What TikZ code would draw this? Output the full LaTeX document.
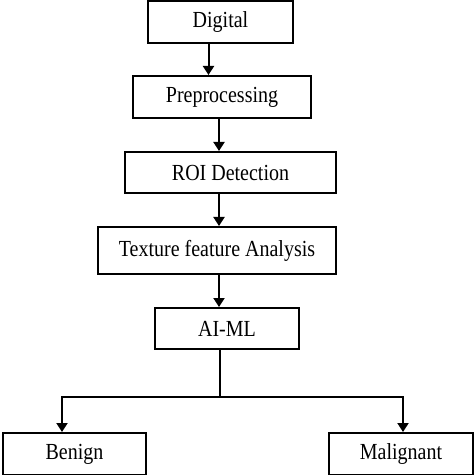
\documentclass[tikz,border=0pt]{standalone}
\usepackage{fontspec}
\setmainfont{Liberation Serif}
\usetikzlibrary{arrows.meta}

\newcommand{\stagetext}[1]{\scalebox{1}[1.15]{#1}}

\tikzset{
  stage/.style={draw, line width=1pt, minimum height=#1, inner sep=0pt, font=\fontsize{10}{12}\selectfont},
  stage/.default=21pt,
  arr/.style={line width=1pt, -{Triangle[length=4.5pt,width=5.5pt]}}
}

\begin{document}
\begin{tikzpicture}[x=0.5pt, y=-0.5pt]
  \useasboundingbox (0,0) rectangle (474,475);
  \node[stage, minimum width=72.5pt] (dig) at (220.5,22) {\stagetext{Digital}};
  \node[stage, minimum width=89pt] (pre) at (222,97) {\stagetext{Preprocessing}};
  \node[stage=20.5pt, minimum width=105.5pt] (roi) at (230.5,172.5) {\stagetext{ROI Detection}};
  \node[stage=23.5pt, minimum width=119pt] (tex) at (217,250.5) {\stagetext{Texture feature Analysis}};
  \node[stage=20.5pt, minimum width=72pt] (aiml) at (227,328.5) {\stagetext{AI-ML}};
  \node[stage, minimum width=71.5pt] (ben) at (74.5,454) {\stagetext{Benign}};
  \node[stage, minimum width=72pt] (mal) at (401,454) {\stagetext{Malignant}};
  % arrows between stages
  \draw[arr] ([xshift=-6pt]dig.south) -- ([xshift=-6pt]dig.south |- pre.north);
  \draw[arr] ([xshift=-1.5pt]pre.south) -- ([xshift=-1.5pt]pre.south |- roi.north);
  \draw[arr] ([xshift=-5.75pt]roi.south) -- ([xshift=-5.75pt]roi.south |- tex.north);
  \draw[arr] ([xshift=1pt]tex.south) -- ([xshift=1pt]tex.south |- aiml.north);
  % branch to the two classes
  \coordinate (br) at (220,397);
  \draw[line width=1pt] (aiml.south -| br) -- (br);
  \draw[arr] (br) -| ([xshift=-6.25pt]ben.north);
  \draw[arr] (br) -| ([xshift=1pt]mal.north);
\end{tikzpicture}
\end{document}
